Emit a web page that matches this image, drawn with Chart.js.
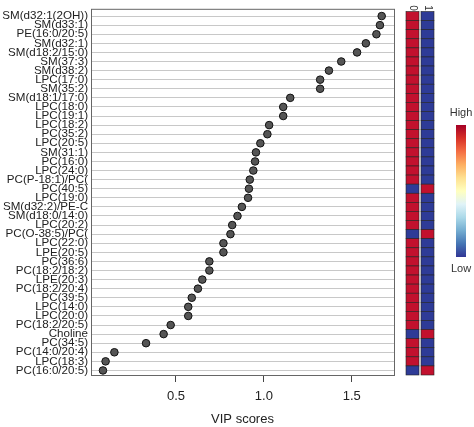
<!DOCTYPE html>
<html><head><meta charset="utf-8">
<script src="https://cdn.jsdelivr.net/npm/chart.js@4"></script>
<style>html,body{margin:0;padding:0;background:#fff}#c{display:block}</style>
</head><body>
<canvas id="c" width="474" height="427"></canvas>
<script>
const features = ["SM(d32:1(2OH))","SM(d33:1)","PE(16:0/20:5)","SM(d32:1)","SM(d18:2/15:0)","SM(37:3)","SM(d38:2)","LPC(17:0)","SM(35:2)","SM(d18:1/17:0)","LPC(18:0)","LPC(19:1)","LPC(18:2)","PC(35:2)","LPC(20:5)","SM(31:1)","PC(16:0)","LPC(24:0)","PC(P-18:1)/PC(","PC(40:5)","LPC(19:0)","SM(d32:2)/PE-C","SM(d18:0/14:0)","LPC(20:2)","PC(O-38:5)/PC(","LPC(22:0)","LPE(20:5)","PC(36:6)","PC(18:2/18:2)","LPE(20:3)","PC(18:2/20:4)","PC(39:5)","LPC(14:0)","LPC(20:0)","PC(18:2/20:5)","Choline","PC(34:5)","PC(14:0/20:4)","LPC(18:3)","PC(16:0/20:5)"];
const vipScores = [1.67,1.66,1.64,1.58,1.53,1.44,1.37,1.32,1.32,1.15,1.11,1.11,1.03,1.02,0.98,0.955,0.95,0.94,0.92,0.915,0.91,0.875,0.85,0.82,0.81,0.77,0.77,0.69,0.69,0.65,0.625,0.59,0.57,0.57,0.47,0.43,0.33,0.15,0.10,0.085];
// 1 = high, 0 = low
const group0 = [1,1,1,1,1,1,1,1,1,1,1,1,1,1,1,1,1,1,1,0,1,1,1,1,0,1,1,1,1,1,1,1,1,1,1,0,1,1,1,0];
const group1 = group0.map(v=>1-v);
const groupLabels = ["0","1"];
const xTicks = [0.5,1.0,1.5];

const RED="#C2112E", BLUE="#2E3B97";
const heatPlugin = {
  id:'heat',
  afterDraw(chart){
    const ctx=chart.ctx, y=chart.scales.y, a=chart.chartArea;
    const step = y.getPixelForValue(1)-y.getPixelForValue(0);
    const cols=[group0,group1], xs=[406,421], w=13;
    ctx.save();
    ctx.strokeStyle="#666"; ctx.lineWidth=1;
    ctx.strokeRect(a.left+0.5,a.top+0.5,a.right-a.left,a.bottom-a.top);
    cols.forEach((col,ci)=>{
      col.forEach((v,i)=>{
        const cy=y.getPixelForValue(i);
        ctx.fillStyle=v?RED:BLUE;
        ctx.fillRect(xs[ci],cy-step/2,w,step);
        ctx.strokeStyle="#222"; ctx.lineWidth=0.6;
        ctx.strokeRect(xs[ci],cy-step/2,w,step);
      });
      ctx.save();
      ctx.translate(xs[ci]+w/2, a.top+2);
      ctx.rotate(Math.PI/2);
      ctx.fillStyle="#333"; ctx.font="10px 'Liberation Sans'";
      ctx.textAlign="right"; ctx.textBaseline="middle";
      ctx.fillText(groupLabels[ci],0,0);
      ctx.restore();
    });
    const g=ctx.createLinearGradient(0,125,0,257);
    ["#A50026","#D73027","#F46D43","#FDAE61","#FEE090","#FFFFBF","#E0F3F8","#ABD9E9","#74ADD1","#4575B4","#313695"].forEach((c,i,arr)=>g.addColorStop(i/(arr.length-1),c));
    ctx.fillStyle=g; ctx.fillRect(456,125,10,132);
    ctx.fillStyle="#333"; ctx.font="11px 'Liberation Sans'"; ctx.textAlign="center";
    ctx.textBaseline="middle";
    ctx.fillText("High",461,113); ctx.fillText("Low",461,269);
    ctx.restore();
  }
};

new Chart(document.getElementById('c'),{
  type:'scatter',
  data:{datasets:[{data:vipScores.map((v,i)=>({x:v,y:i})),
    backgroundColor:"#555",borderColor:"#111",borderWidth:1,pointRadius:3.8}]},
  options:{
    responsive:false,animation:false,
    layout:{padding:{top:6,right:80,left:0,bottom:0}},
    plugins:{legend:{display:false},tooltip:{enabled:false}},
    scales:{
      x:{type:'linear',min:0.017,max:1.74,
        afterBuildTicks(s){s.ticks=xTicks.map(v=>({value:v}));},
        afterFit(s){s.height=52;},
        grid:{drawOnChartArea:false,drawTicks:true,tickLength:7,color:"#444"},
        border:{display:false},
        ticks:{color:"#222",font:{family:"Liberation Sans",size:13},padding:7,callback:v=>v.toFixed(1)},
        title:{display:true,text:"VIP scores",color:"#222",font:{family:"Liberation Sans",size:13},padding:{top:6,bottom:0}}},
      y:{type:'linear',reverse:true,min:-0.8,max:39.5,
        afterBuildTicks(s){s.ticks=features.map((f,i)=>({value:i}));},
        afterFit(s){s.width=91;},
        grid:{color:"#c8c8c8",drawTicks:false},
        border:{display:false},
        ticks:{autoSkip:false,color:"#222",font:{family:"Liberation Sans",size:11.6,lineHeight:1},padding:3,callback:(v)=>features[v]}}
    }
  },
  plugins:[heatPlugin]
});
</script>
</body></html>
